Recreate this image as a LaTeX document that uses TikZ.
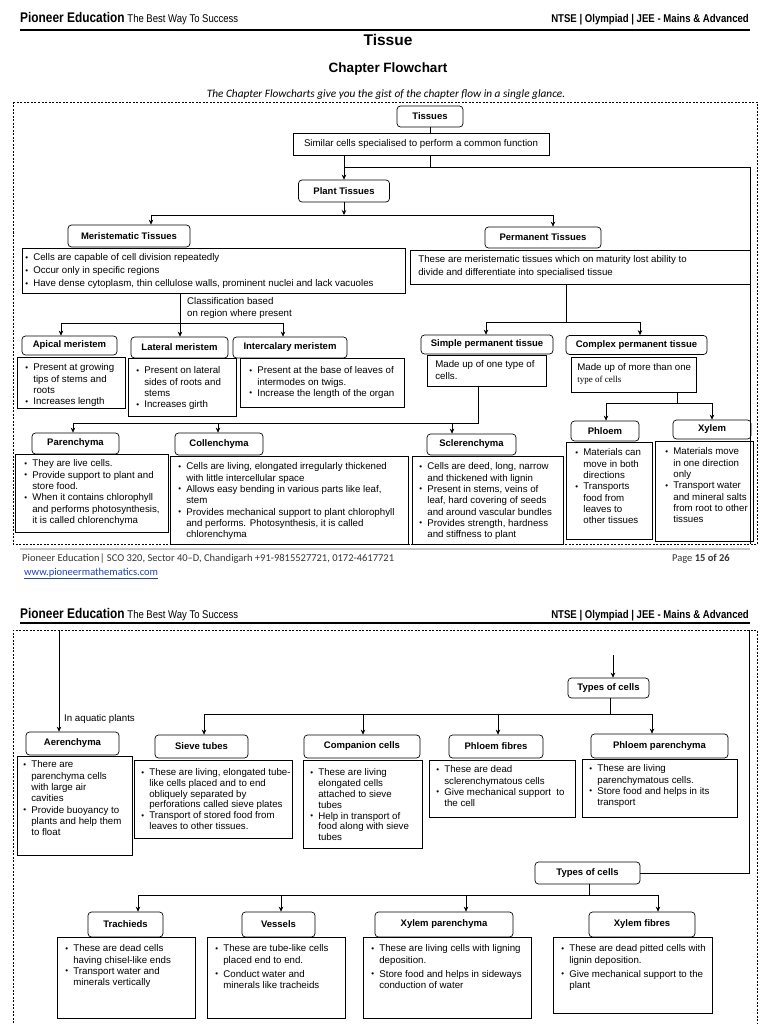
\documentclass[tikz,border=0pt]{standalone}
\usepackage{fontspec}
\setmainfont{Liberation Sans}
\newfontfamily\narrowf[FakeStretch=0.85]{Liberation Sans}
\newfontfamily\calf{Carlito}
\newfontfamily\serf{Liberation Serif}
\usetikzlibrary{arrows.meta}
\definecolor{linkblue}{HTML}{1F3FBF}
\definecolor{foot}{HTML}{333333}
\newcommand\bul{\raisebox{0.6pt}{\fontsize{8}{8}\selectfont\textbullet}}
\newcommand\itm[1]{\par\hangindent=8pt\hangafter=1\noindent\makebox[8pt][l]{\bul}#1}
\newcommand\NL{\newline}
\newcommand\cb[5][5.5pt]{\hspace*{#2}\parbox[t][#4][t]{\dimexpr#3-#2\relax}{\raggedright\vspace*{#1}#5}}
\tikzset{
  lbl/.style={draw, rounded corners=3.5pt, font=\fontsize{9.5}{11}\selectfont\bfseries, inner sep=0pt, line width=0.7pt},
  cbx/.style={draw, anchor=north west, inner sep=0pt, font=\fontsize{9.7}{11.3}\selectfont, line width=0.7pt},
  ln/.style={line width=0.7pt},
  arr/.style={line width=0.7pt, -{Stealth[length=5pt,width=4.5pt]}},
  framed/.style={line width=0.6pt, dash pattern=on 2pt off 1.5pt},
  plain/.style={inner sep=0pt, font=\fontsize{9.7}{12}\selectfont}
}
\begin{document}
\begin{tikzpicture}[x=1pt,y=-1pt]
\useasboundingbox (0,0) rectangle (768,1024);

% ===== page 1 header =====
\node[anchor=base west, inner sep=0pt] (hl1) at (20,23) {{\narrowf\bfseries\fontsize{14}{14}\selectfont Pioneer Education} {\narrowf\fontsize{11.2}{12}\selectfont The Best Way To Success}};
\node[anchor=base east, inner sep=0pt] (hr1) at (749,23) {\narrowf\bfseries\fontsize{11.3}{12}\selectfont NTSE | Olympiad | JEE - Mains \& Advanced};
\draw[line width=1.6pt] (20,30) -- (750,30);
\node[inner sep=0pt, font=\bfseries\fontsize{15.5}{16}\selectfont] (title) at (388,40) {Tissue};
\node[anchor=base, inner sep=0pt, font=\bfseries\fontsize{13.5}{14}\selectfont] (sub) at (388,73) {Chapter Flowchart};
\node[anchor=base, inner sep=0pt, font=\calf\itshape\fontsize{11.3}{12}\selectfont] (intro) at (386,98) {The Chapter Flowcharts give you the gist of the chapter flow in a single glance.};
\draw[framed] (13,102) rectangle (757,544);

% ===== page 1 nodes =====
\node[lbl, minimum width=66, minimum height=21] (tissues) at (430,116.5) {Tissues};
\node[draw, line width=0.7pt, minimum width=256, minimum height=22, inner sep=0pt, font=\fontsize{9.7}{11}\selectfont] (similar) at (421,144) {Similar cells specialised to perform a common function};
\node[lbl, minimum width=91, minimum height=22] (plant) at (344,191) {Plant Tissues};
\node[lbl, minimum width=122, minimum height=22] (meri) at (129,236) {Meristematic Tissues};
\node[lbl, minimum width=116, minimum height=21] (perm) at (543,237.5) {Permanent Tissues};

\node[cbx, font=\fontsize{9.7}{13}\selectfont] (merc) at (22,248) {\cb[5.5pt]{3pt}{383pt}{45pt}{\itm{Cells are capable of cell division repeatedly}\itm{Occur only in specific regions}\itm{Have dense cytoplasm, thin cellulose walls, prominent nuclei and lack vacuoles}}};
\node[cbx, font=\fontsize{9.7}{13}\selectfont] (perc) at (410,250) {\cb[5.5pt]{8pt}{340pt}{34pt}{These are meristematic tissues which on maturity lost ability to\NL divide and differentiate into specialised tissue}};

\node[plain, anchor=north west, align=left] (classif) at (187,297) {Classification based\\on region where present};

\node[lbl, minimum width=95, minimum height=19] (api) at (69.5,345.5) {Apical meristem};
\node[lbl, minimum width=97, minimum height=21] (lat) at (179.5,347.5) {Lateral meristem};
\node[lbl, minimum width=114, minimum height=21] (inter) at (290,347.5) {Intercalary meristem};
\node[lbl, minimum width=132, minimum height=19] (simp) at (487,344.5) {Simple permanent tissue};
\node[lbl, minimum width=141, minimum height=19] (comp) at (636.5,345) {Complex permanent tissue};

\node[cbx] (apc) at (17,357) {\cb[6.5pt]{8pt}{108pt}{51pt}{\itm{Present at growing\NL tips of stems and\NL roots}\itm{Increases length}}};
\node[cbx] (latc) at (128,358) {\cb[8.5pt]{8pt}{108pt}{58pt}{\itm{Present on lateral\NL sides of roots and\NL stems}\itm{Increases girth}}};
\node[cbx] (intc) at (240,358) {\cb[8.5pt]{9pt}{164pt}{49pt}{\itm{Present at the base of leaves of\NL intermodes on twigs.}\itm{Increase the length of the organ}}};
\node[cbx] (simc) at (427,355) {\cb[5.5pt]{8pt}{119pt}{31pt}{Made up of one type of\NL cells.}};
\node[cbx] (comc) at (571,357) {\cb[6.5pt]{6pt}{125pt}{35pt}{Made up of more than one\NL {\serf\fontsize{9}{11}\selectfont type of cells}}};

\node[lbl, minimum width=87, minimum height=21] (paren) at (75.5,443.5) {Parenchyma};
\node[lbl, minimum width=88, minimum height=22] (coll) at (219,444) {Collenchyma};
\node[lbl, minimum width=89, minimum height=21] (scle) at (471.5,444.5) {Sclerenchyma};
\node[lbl, minimum width=68, minimum height=20] (phl) at (605,431) {Phloem};
\node[lbl, minimum width=78, minimum height=19] (xyl) at (712,429.5) {Xylem};

\node[cbx] (parc) at (15,454) {\cb[5.5pt]{9pt}{153pt}{78pt}{\itm{They are live cells.}\itm{Provide support to plant and\NL store food.}\itm{When it contains chlorophyll\NL and performs photosynthesis,\NL it is called chlorenchyma}}};
\node[cbx] (colc) at (170,456) {\cb[6.5pt]{8pt}{238pt}{88pt}{\itm{Cells are living, elongated irregularly thickened\NL with little intercellular space}\itm{Allows easy bending in various parts like leaf,\NL stem}\itm{Provides mechanical support to plant chlorophyll\NL and performs. Photosynthesis, it is called\NL chlorenchyma}}};
\node[cbx] (sclc) at (412,456) {\cb[6.5pt]{7pt}{151pt}{88pt}{\itm{Cells are deed, long, narrow\NL and thickened with lignin}\itm{Present in stems, veins of\NL leaf, hard covering of seeds\NL and around vascular bundles}\itm{Provides strength, hardness\NL and stiffness to plant}}};
\node[cbx] (phc) at (566,442) {\cb[6.5pt]{9pt}{86pt}{97pt}{\itm{Materials can\NL move in both\NL directions}\itm{Transports\NL food from\NL leaves to\NL other tissues}}};
\node[cbx] (xyc) at (655,441) {\cb[6.5pt]{10pt}{98pt}{100pt}{\itm{Materials move\NL in one direction\NL only}\itm{Transport water\NL and mineral salts\NL from root to other\NL tissues}}};

% ===== page 1 connectors =====
\coordinate (j1) at (750,167);
\coordinate (j1b) at (750,544);
\draw[ln] (tissues.south) -- (tissues.south |- similar.north);
\draw[arr] (plant.north |- similar.south) -- (plant.north);
\draw[ln] (tissues.south |- similar.south) -- (tissues.south |- j1);
\draw[ln] (plant.north |- j1) -- (j1) -- (j1b);
\coordinate (j2) at (344,215);
\coordinate (j2l) at (151,215);
\coordinate (j2r) at (553,215);
\draw[arr] (plant.south) -- (j2);
\draw[ln] (j2l) -- (j2r);
\draw[arr] (j2l) -- (j2l |- meri.north);
\draw[arr] (j2r) -- (j2r |- perm.north);
\coordinate (j3) at (180,323);
\coordinate (j3l) at (61,323);
\coordinate (j3r) at (283,323);
\draw[arr] (merc.south -| j3) -- (j3 |- lat.north);
\draw[ln] (j3l) -- (j3r);
\draw[arr] (j3l) -- (j3l |- api.north);
\draw[arr] (j3r) -- (j3r |- inter.north);
\coordinate (j4) at (566,322);
\coordinate (j4l) at (486,322);
\coordinate (j4r) at (640,322);
\draw[ln] (perc.south -| j4) -- (j4);
\draw[ln] (j4l) -- (j4r);
\draw[arr] (j4l) -- (j4l |- simp.north);
\draw[arr] (j4r) -- (j4r |- comp.north);
\coordinate (j5) at (478,423);
\coordinate (j5l) at (73,423);
\coordinate (j5c) at (218,423);
\coordinate (j5s) at (452,423);
\draw[ln] (simc.south -| j5) -- (j5) -- (j5l);
\draw[arr] (j5l) -- (j5l |- paren.north);
\draw[arr] (j5c) -- (j5c |- coll.north);
\draw[arr] (j5s) -- (j5s |- scle.north);
\coordinate (j6) at (677,403);
\coordinate (j6l) at (606,403);
\coordinate (j6r) at (712,403);
\draw[ln] (comc.south -| j6) -- (j6);
\draw[ln] (j6l) -- (j6r);
\draw[arr] (j6l) -- (j6l |- phl.north);
\draw[arr] (j6r) -- (j6r |- xyl.north);

% ===== page 1 footer =====
\draw[gray!45, line width=1.5pt] (20,549) -- (750,549);
\node[anchor=base west, inner sep=0pt, font=\calf\fontsize{10.5}{12}\selectfont, text=foot] (foot1) at (22,561) {Pioneer Education| SCO 320, Sector 40–D, Chandigarh +91-9815527721, 0172-4617721};
\node[anchor=base west, inner sep=0pt, font=\calf\fontsize{10.5}{12}\selectfont, text=linkblue] (link) at (24,575) {\underline{www.pioneermathematics.com}};
\node[anchor=base east, inner sep=0pt, font=\calf\fontsize{10.5}{12}\selectfont, text=foot] (pg) at (730,561) {Page \textbf{15 of 26}};

% ===== page 2 header =====
\node[anchor=base west, inner sep=0pt] (hl2) at (20,618) {{\narrowf\bfseries\fontsize{14}{14}\selectfont Pioneer Education} {\narrowf\fontsize{11.2}{12}\selectfont The Best Way To Success}};
\node[anchor=base east, inner sep=0pt] (hr2) at (749,618) {\narrowf\bfseries\fontsize{11.3}{12}\selectfont NTSE | Olympiad | JEE - Mains \& Advanced};
\draw[line width=1.6pt] (20,623) -- (750,623);
\draw[framed] (13,1030) -- (13,630) -- (757,630) -- (757,1030);

% ===== page 2 nodes =====
\node[lbl, minimum width=81, minimum height=20] (types1) at (608.5,688) {Types of cells};
\node[plain, anchor=base west] (aquatic) at (64,721) {In aquatic plants};
\node[lbl, minimum width=93, minimum height=23] (aer) at (72.5,743.5) {Aerenchyma};
\node[lbl, minimum width=93, minimum height=23] (sieve) at (201.5,746.5) {Sieve tubes};
\node[lbl, minimum width=116, minimum height=23] (compn) at (362,746.5) {Companion cells};
\node[lbl, minimum width=94, minimum height=23] (pfib) at (496,746.5) {Phloem fibres};
\node[lbl, minimum width=137, minimum height=24] (ppar) at (659.5,746) {Phloem parenchyma};

\node[cbx] (aerc) at (17,756) {\cb[4.5pt]{6pt}{115pt}{99pt}{\itm{There are\NL parenchyma cells\NL with large air\NL cavities}\itm{Provide buoyancy to\NL plants and help them\NL to float}}};
\node[cbx, font=\fontsize{9.7}{10.7}\selectfont] (sievc) at (134,760) {\cb[8.5pt]{7pt}{158pt}{78pt}{\itm{These are living, elongated tube-\NL like cells placed and to end\NL obliquely separated by\NL perforations called sieve plates}\itm{Transport of stored food from\NL leaves to other tissues.}}};
\node[cbx, font=\fontsize{9.7}{10.8}\selectfont] (compcc) at (303,760) {\cb[8.5pt]{7pt}{119pt}{88pt}{\itm{These are living\NL elongated cells\NL attached to sieve\NL tubes}\itm{Help in transport of\NL food along with sieve\NL tubes}}};
\node[cbx] (pfc) at (429,760) {\cb[5.5pt]{7pt}{146pt}{57pt}{\itm{These are dead\NL sclerenchymatous cells}\itm{Give mechanical support\ \ to\NL the cell}}};
\node[cbx] (ppc) at (582,759) {\cb[5.5pt]{7pt}{155pt}{58pt}{\itm{These are living\NL parenchymatous cells.}\itm{Store food and helps in its\NL transport}}};

\node[lbl, minimum width=105, minimum height=22] (types2) at (587.5,873) {Types of cells};
\node[lbl, minimum width=75, minimum height=25] (trach) at (125.5,924.5) {Trachieds};
\node[lbl, minimum width=73, minimum height=25] (vess) at (278.5,924.5) {Vessels};
\node[lbl, minimum width=138, minimum height=25] (xpar) at (444,924.5) {Xylem parenchyma};
\node[lbl, minimum width=106, minimum height=25] (xfib) at (642,924.5) {Xylem fibres};

\node[cbx] (trc) at (57,937) {\cb[7.5pt]{8pt}{138pt}{81pt}{\itm{These are dead cells\NL having chisel-like ends}\itm{Transport water and\NL minerals vertically}}};
\node[cbx] (vec) at (207,937) {\cb[7.5pt]{8pt}{138pt}{81pt}{\itm{These are tube-like cells\NL placed end to end.}\par\vspace{3pt}\itm{Conduct water and\NL minerals like tracheids}}};
\node[cbx] (xpc) at (363,937) {\cb[7.5pt]{8pt}{168pt}{81pt}{\itm{These are living cells with ligning\NL deposition.}\par\vspace{3pt}\itm{Store food and helps in sideways\NL conduction of water}}};
\node[cbx] (xfc) at (553,937) {\cb[7.5pt]{8pt}{159pt}{76pt}{\itm{These are dead pitted cells with\NL lignin deposition.}\par\vspace{3pt}\itm{Give mechanical support to the\NL plant}}};

% ===== page 2 connectors =====
\coordinate (k0) at (59,630);
\draw[arr] (k0) -- (k0 |- aer.north);
\coordinate (k1) at (613,655);
\draw[arr] (k1) -- (k1 |- types1.north);
\coordinate (k2) at (610,714);
\coordinate (k2l) at (204,714);
\coordinate (k2c) at (363,714);
\coordinate (k2f) at (498,714);
\coordinate (k2r) at (652,714);
\draw[ln] (types1.south -| k2) -- (k2);
\draw[ln] (k2l) -- (k2r);
\draw[arr] (k2l) -- (k2l |- sieve.north);
\draw[arr] (k2c) -- (k2c |- compn.north);
\draw[arr] (k2f) -- (k2f |- pfib.north);
\draw[arr] (k2r) -- (k2r |- ppar.north);
\coordinate (k3) at (749,630);
\draw[ln] (k3) -- (k3 |- types2.east) -- (types2.east);
\coordinate (k4) at (589,895);
\coordinate (k4a) at (138,895);
\coordinate (k4b) at (281,895);
\coordinate (k4c) at (466,895);
\coordinate (k4d) at (658,895);
\draw[ln] (types2.south -| k4) -- (k4);
\draw[ln] (k4a) -- (k4d);
\draw[arr] (k4a) -- (k4a |- trach.north);
\draw[arr] (k4b) -- (k4b |- vess.north);
\draw[arr] (k4c) -- (k4c |- xpar.north);
\draw[arr] (k4d) -- (k4d |- xfib.north);
\end{tikzpicture}
\end{document}
